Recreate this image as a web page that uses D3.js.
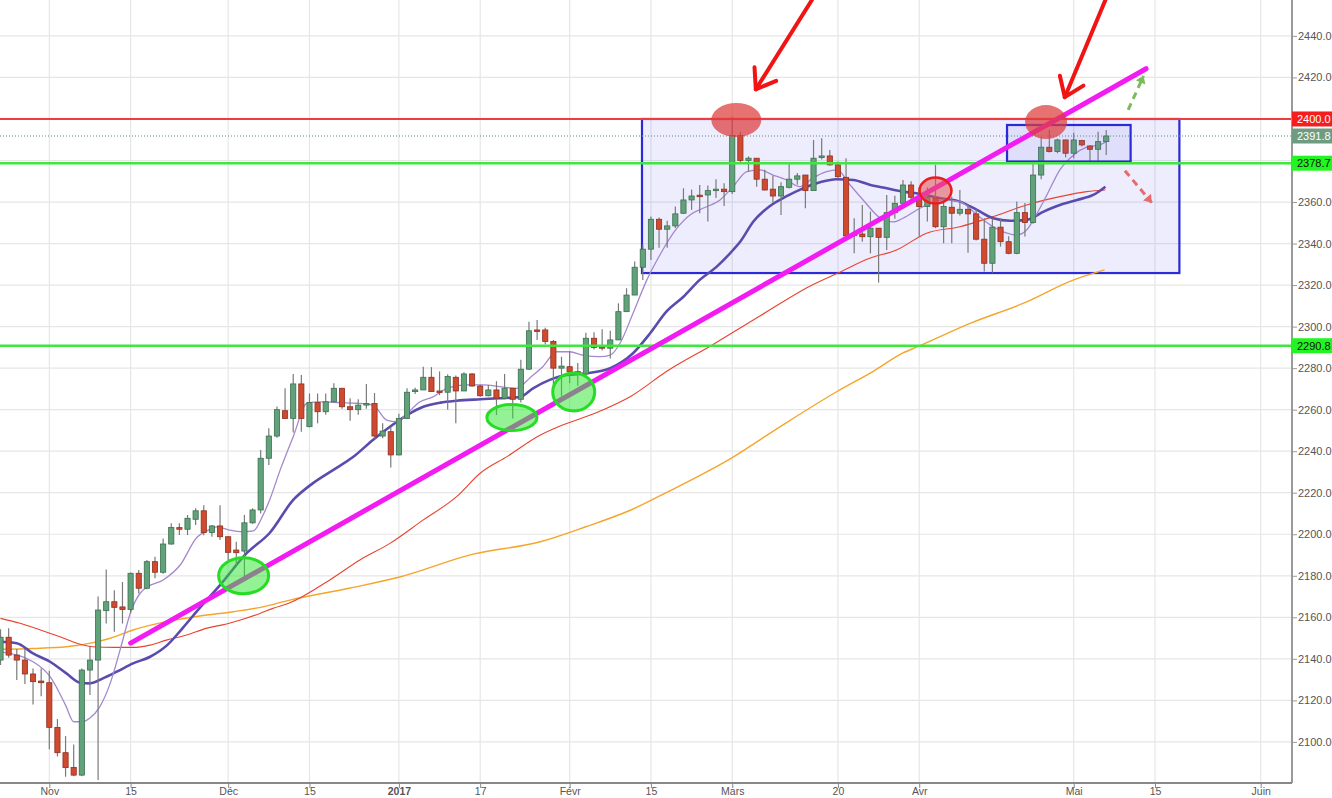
<!DOCTYPE html>
<html><head><meta charset="utf-8">
<script src="https://cdn.jsdelivr.net/npm/d3@7"></script>
<style>html,body{margin:0;padding:0;background:#fff;overflow:hidden}text{font-family:"Liberation Sans",Arial,sans-serif}</style>
</head><body><svg id="c" width="1332" height="798"></svg>
<script>
// ---- candle data (trading-day index 0..136) ----
const opens=[2139.4,2150.4,2141.8,2139.4,2132.7,2129.3,2128.5,2107,2094.8,2087.7,2084,2134.6,2139.4,2163.2,2167.5,2165,2163.8,2181.2,2174,2186.8,
2181.7,2195.3,2203.2,2202.4,2207.2,2211.3,2200.8,2204,2198.8,2192.4,2191.9,2205.5,2211.7,2236.6,2247.3,2259.5,2255.8,2272.4,2251.8,2263.4,
2259,2263.8,2270.3,2261.4,2260,2262.2,2263,2247.3,2249.4,2238.2,2255.8,2268.7,2269.5,2275.6,2269,2268.4,2275.6,2269,2277.2,2271.4,
2266.7,2269.5,2265.5,2270.3,2265,2279.5,2298.4,2298.4,2292.8,2280,2280.7,2278.3,2277.2,2294.4,2290.7,2289.6,2293.6,2307.2,2315.2,2328.6,
2337.3,2351.7,2346.9,2348.5,2354.6,2361,2363.3,2363.4,2365.7,2366.2,2365,2392,2380,2381.1,2371,2366.2,2362.9,2367.1,2371,2373,
2365.5,2381.4,2382.2,2377.9,2371.9,2343.8,2344.6,2343.3,2347.4,2343,2354.9,2359.4,2368.2,2362.3,2357.8,2361.8,2348.1,2357.5,2354.6,2356.5,
2354.3,2342.1,2330.5,2347.9,2340.9,2335.3,2354.9,2350.1,2373,2386.4,2384.3,2389.9,2383.5,2389.6,2387,2385.4,2389.1];
const highs=[2154.2,2154.7,2144.7,2144.7,2135.4,2135.4,2134.3,2111,2102.8,2098.8,2135.4,2146.3,2170,2183,2173,2177,2181.6,2182.8,2187.6,2189.2,
2198,2205.3,2205.3,2209.3,2212.5,2214,2204.5,2214,2199,2196.4,2209.3,2212.5,2240.6,2251,2261.5,2270.3,2277.2,2276.7,2267.8,2267.8,
2267.8,2272.7,2270.5,2265.5,2265,2272.4,2268,2253.5,2252,2258,2270.3,2270.5,2280.7,2280.5,2278.4,2277,2276.5,2278,2277.6,2272,
2271.9,2273.7,2277.2,2270.3,2284,2302.4,2303.2,2299.5,2293.6,2285.5,2288,2282.5,2297,2297.3,2298.7,2298,2311.2,2318.5,2331.3,2339.6,
2353,2352.5,2351,2357.8,2366.6,2366,2368.2,2368,2371,2369,2401.1,2393.9,2382,2381.1,2375.5,2372.6,2369.5,2379,2374,2373,
2389.9,2390.7,2385.1,2379.5,2381.1,2352.2,2358.6,2355.4,2347.5,2363.4,2363,2370.6,2370,2367,2367,2377.9,2359.5,2362.6,2365.8,2359,
2356.5,2352.2,2352.2,2352.2,2343.5,2360.2,2359.5,2378.7,2391.5,2394.7,2390.5,2390,2393.4,2390,2387.5,2393.9,2394.7];
const lows=[2137,2140.5,2129.8,2127.9,2118,2122,2096.4,2093,2083.2,2083.5,2083.5,2122.6,2081.6,2157,2153,2157,2162,2171.5,2173.5,2178.8,
2181,2195,2199.6,2199.6,2204.5,2199.5,2198.8,2197.2,2187.6,2185.2,2179.6,2205,2210,2233.4,2246.5,2255.5,2249,2249.4,2251.5,2253.4,
2257.5,2263.5,2260.5,2254.7,2257.5,2260.5,2246,2246.2,2232.2,2238,2255.5,2267.5,2269.5,2268.5,2267,2260,2253.4,2269,2271,2266.2,
2266.5,2257.4,2265,2255.8,2263.5,2279.2,2293.6,2291.5,2269.5,2266.3,2272.7,2271.5,2276.5,2289,2288.5,2284.7,2293.6,2307,2315.2,2322.5,
2332.1,2338,2338,2347.5,2354.3,2356.2,2354.6,2350.6,2362,2358.1,2363.9,2378.7,2374.6,2367.4,2365.5,2359.7,2353.8,2366.5,2368.3,2357,
2365.5,2380.5,2377.5,2371.5,2343,2335.3,2340.9,2335.3,2321.2,2336.9,2352,2359,2360.5,2343.3,2350.6,2347.4,2340.1,2340.1,2353.5,2335.6,
2341.5,2326.5,2326,2338.5,2334.8,2334.8,2343.4,2349.5,2371,2383.8,2383.5,2381.5,2381.1,2386.8,2379.5,2379.5,2382.7];
const closes=[2150.4,2141.8,2139.4,2132.7,2129,2128.5,2107,2094.8,2087.6,2084,2134.6,2139.4,2163.5,2167.5,2164.8,2163.8,2181.2,2174,2186.8,2181.7,
2195.3,2203.3,2202.4,2207.7,2211.3,2200.8,2204,2198.8,2191.3,2191.1,2205.5,2211.7,2236.6,2247.3,2260,2255.8,2272.4,2255.8,2263.4,2259,
2263.8,2270.3,2261.4,2260,2262.2,2263,2247.3,2249.7,2238.2,2255.8,2268.4,2269.5,2275.6,2268.7,2268.4,2276,2269,2277.2,2271.4,2266.7,
2269.5,2265.5,2270.3,2265,2279.5,2298,2297.8,2292.8,2280,2281,2278.3,2277.2,2294.4,2290,2289.6,2293.6,2307.2,2315.2,2328.6,2337.3,
2351.7,2346.9,2348.5,2354.3,2361,2362.9,2362.8,2365.5,2366.2,2365,2392,2380,2381.1,2371,2365.8,2362.9,2367.4,2371,2372.6,2365.5,
2381.1,2382.2,2377.9,2372.2,2343.7,2344.6,2343.3,2347.4,2343,2354.9,2359.4,2368.2,2362.3,2357.8,2362.3,2348.1,2357.8,2354.6,2356.5,2354.3,
2342.1,2330.5,2347.9,2340.9,2335.3,2354.9,2350.1,2373,2386.4,2384.3,2389.9,2383.5,2389.9,2387.5,2385.4,2389.1,2391.8];

// ---- moving averages: [day index, value] ----
const maFast=[[0,2143.4],[4,2138.6],[6.1,2131.4],[8,2117.7],[9,2109.7],[10,2109.7],[11,2111.5],[12.2,2116.9],[13.5,2128.3],[14.7,2144.2],
[16.1,2163.5],[17.2,2171.7],[18.1,2174.7],[20,2178],[22.1,2185.2],[24.2,2198.7],[25.2,2201.2],[26.6,2203.6],[28.2,2202],[29.8,2201.2],
[31.1,2201.6],[32.3,2209.3],[33.1,2216.5],[34.4,2231],[36,2247],[37.7,2263.1],[39.3,2263.8],[41.8,2263.4],[43.8,2263.1],[45.8,2262.2],
[47.5,2255],[48.7,2254.2],[50,2258.2],[51.6,2263.8],[53.2,2266.2],[54.9,2270.3],[57.3,2271.9],[59.4,2271.9],[61.4,2271.1],[63.5,2270.3],
[65.1,2275.3],[66.7,2280.7],[68.4,2287.9],[70,2287.9],[71.6,2286.3],[73.7,2285.5],[75,2286.3],[76.2,2292],[77.8,2306.4],[79.5,2322.5],
[81.1,2334.5],[83.2,2347.4],[84.8,2353.8],[86.4,2357],[88.5,2361],[90.1,2367.4],[91.8,2374.6],[93.4,2375.5],[95,2373],[96.7,2370.6],
[98.3,2367.4],[99.9,2371.5],[101.6,2374.6],[102.9,2375.5],[104.5,2368.2],[106.1,2361],[108.2,2352.3],[109.8,2350.4],[111,2352.2],[113.1,2357],
[115.9,2361],[118,2360.2],[120.1,2353.8],[122.1,2348.1],[123.8,2345],[125,2344.1],[126.2,2346.5],[127.5,2354.6],[128.7,2363.4],[130.3,2375.5],
[132,2382.7],[133.6,2386.4],[135.2,2387.5],[136,2389.1]];
const maMid=[[0,2148.2],[2,2147.5],[4,2142.6],[6.1,2138.6],[8.1,2133],[9.8,2128.5],[11,2128.2],[12.6,2130.6],[14.3,2133.8],[16.3,2137.8],
[18.4,2141],[20.5,2146.6],[22.4,2154.8],[24.5,2164.5],[27,2175.5],[30.3,2191],[33.1,2200.6],[36,2216.5],[38.4,2224.5],[40.9,2230.9],
[43.4,2237.3],[45.8,2245.4],[47.9,2251.8],[50,2257.4],[52,2261.4],[54.1,2263.4],[56.1,2264.3],[59,2265],[61.4,2265.5],[63.9,2266.1],
[65.5,2270.3],[69.6,2276.7],[72.1,2277.5],[75,2280],[77.8,2287.2],[79.9,2296.8],[81.9,2307.2],[84,2314.4],[86,2322.5],[88.1,2328.9],
[90.1,2336.9],[91,2341],[92.6,2350.6],[94.6,2358],[96.7,2362.8],[98.7,2366.6],[100.8,2369.5],[102.8,2371],[104.9,2370.6],[107,2368.2],
[109,2366.6],[111,2365],[113.1,2363.9],[115.6,2361.8],[118,2360.2],[120.1,2356.2],[122.1,2352.2],[124.2,2351],[126.2,2351.4],[128.3,2355.4],
[130.3,2358.6],[132.4,2361],[134.4,2363.4],[135.9,2367.4]];
const maSlow=[[0,2159.5],[2.4,2157.1],[4.9,2153.9],[7.3,2150.6],[9.4,2147.5],[11.4,2145.8],[13.9,2145.5],[16.3,2145.5],[18.4,2146.6],[20.4,2149],
[22.9,2151.5],[25.4,2154.8],[27.8,2156.8],[29.5,2158.7],[32,2162],[33.5,2164.3],[35.6,2167],[40.5,2178],[44.2,2187.6],[47.9,2195.6],
[52,2206.9],[56.1,2218.1],[59,2229.4],[62.3,2237.4],[66.4,2247.8],[68.8,2252.1],[73.2,2258.4],[77.6,2266.6],[82,2278.6],[87.6,2291.3],
[93.4,2305.1],[99.6,2319.6],[103,2325.8],[106.9,2332.9],[110.2,2336.9],[113.9,2345],[118,2348.1],[122.1,2353],[126.2,2358.6],[130.3,2362.6],
[133.6,2365],[135.9,2365.8]];
const maLong=[[0,2144.6],[4,2145],[8.1,2145.8],[11.4,2147.8],[13.5,2149.9],[16.3,2153.9],[20.4,2157.9],[24.5,2160.6],[28.6,2162.7],[32,2164.8],
[35.6,2168.3],[43,2174.1],[49.1,2179.4],[58.1,2190.4],[66.4,2196.4],[71.9,2203.5],[77.6,2211.8],[82,2220.3],[89.9,2236.7],[96,2252.1],
[103,2269],[107.4,2278.6],[111,2287.3],[113,2290.7],[119.4,2301.8],[125.9,2311.4],[132,2322.5],[135.8,2327.3]];

// ---- axes ----
const xTickIdx=[6,16,28,38,49,59,70,80,90,103,113,132,142,155];
const xTickLabels=["Nov","15","Déc","15","2017","17","Févr","15","Mars","20","Avr","Mai","15","Juin"];
const yTicks=[2100,2120,2140,2160,2180,2200,2220,2240,2260,2280,2300,2320,2340,2360,2380,2400,2420,2440];

// ---- drawn annotations (in data units: day index, price) ----
const resistance=[2400];
const supports=[2378.7,2290.8];
const lastPrice=[2391.8];
const trendLine=[[16.0,2147.6],[140.9,2424.2]];
const rangeBox=[[78.9,2400],[145,2325.8]];
const innerBox=[[123.8,2397.1],[139,2379.5]];
const greenMarks=[[29.9,2180],[62.9,2256.2],[70.5,2268.5]];
const redMarks=[[90.5,2399.5],[128.6,2398.5]];
const redRing=[[115,2365.5]];
const redArrows=[[[99.8,2457.3],[92.9,2414.3]],[[135.9,2457.3],[130.9,2410.5]]];
const upArrow=[[138.7,2404.4],[140.6,2420.8]];
const downArrow=[[138.3,2375.1],[141.6,2359.7]];

const svg=d3.select("#c");
const PR=1292, PB=783;
const x=d3.scaleLinear().domain([-0.064,158.85]).range([0,PR]);
const y=d3.scaleLinear().domain([2080.2,2457.3]).range([PB,0]);

// grid
const g=svg.append("g");
g.selectAll(".hg").data(yTicks).enter().append("line")
 .attr("x1",0).attr("x2",PR).attr("y1",d=>y(d)).attr("y2",d=>y(d)).attr("stroke","#e6e6e6").attr("stroke-width",1.2);
g.selectAll(".vg").data(xTickIdx).enter().append("line")
 .attr("y1",0).attr("y2",PB).attr("x1",d=>x(d)).attr("x2",d=>x(d)).attr("stroke","#e6e6e6").attr("stroke-width",1.2);

// range boxes
function box(b,fill,stroke){
  svg.append("rect").attr("x",x(b[0][0])).attr("y",y(b[0][1]))
   .attr("width",x(b[1][0])-x(b[0][0])).attr("height",y(b[1][1])-y(b[0][1]))
   .attr("fill",fill).attr("stroke",stroke).attr("stroke-width",2.2);
}
box(rangeBox,"rgba(110,110,240,0.12)","#2a2ad8");

// moving averages
const line=d3.line().x(d=>x(d[0])).y(d=>y(d[1])).curve(d3.curveMonotoneX);
svg.append("path").attr("d",line(maLong)).attr("fill","none").attr("stroke","#f5a52a").attr("stroke-width",1.4);
svg.append("path").attr("d",line(maSlow)).attr("fill","none").attr("stroke","#e8432e").attr("stroke-width",1.1);
svg.append("path").attr("d",line(maMid)).attr("fill","none").attr("stroke","#5a4cae").attr("stroke-width",2.6);
svg.append("path").attr("d",line(maFast)).attr("fill","none").attr("stroke","#a488cf").attr("stroke-width",1.3);

// candles
const idx=d3.range(opens.length);
const cg=svg.append("g");
cg.selectAll(".w").data(idx).enter().append("line")
 .attr("x1",i=>x(i)).attr("x2",i=>x(i)).attr("y1",i=>y(highs[i])).attr("y2",i=>y(lows[i]))
 .attr("stroke","#7a7a7a").attr("stroke-width",1.2);
cg.selectAll(".b").data(idx).enter().append("rect")
 .attr("x",i=>x(i)-2.6).attr("width",5.2)
 .attr("y",i=>y(Math.max(opens[i],closes[i])))
 .attr("height",i=>Math.max(1.5,Math.abs(y(opens[i])-y(closes[i]))))
 .attr("fill",i=>closes[i]>=opens[i]?"#62a27a":"#d04a30")
 .attr("stroke",i=>closes[i]>=opens[i]?"#3b6f4e":"#8f3020").attr("stroke-width",0.8);

box(innerBox,"rgba(110,110,240,0.10)","#2a2ad8");

// horizontal levels
svg.selectAll(".res").data(resistance).enter().append("line")
 .attr("x1",0).attr("x2",PR).attr("y1",d=>y(d)).attr("y2",d=>y(d)).attr("stroke","#f03c3c").attr("stroke-width",2);
svg.selectAll(".sup").data(supports).enter().append("line")
 .attr("x1",0).attr("x2",PR).attr("y1",d=>y(d)).attr("y2",d=>y(d)).attr("stroke","#3ee63e").attr("stroke-width",2.6);
svg.selectAll(".last").data(lastPrice).enter().append("line")
 .attr("x1",0).attr("x2",PR).attr("y1",d=>y(d)).attr("y2",d=>y(d)).attr("stroke","#5d8f74").attr("stroke-width",1).attr("stroke-dasharray","1,2");

// trend line
svg.append("line").attr("x1",x(trendLine[0][0])).attr("y1",y(trendLine[0][1]))
 .attr("x2",x(trendLine[1][0])).attr("y2",y(trendLine[1][1]))
 .attr("stroke","#f21cf2").attr("stroke-width",5).attr("stroke-linecap","round");

// marks
const gSize=[[25,18],[25,13],[21,19]];
svg.selectAll(".gm").data(greenMarks).enter().append("ellipse")
 .attr("cx",d=>x(d[0])).attr("cy",d=>y(d[1])).attr("rx",(d,i)=>gSize[i][0]).attr("ry",(d,i)=>gSize[i][1])
 .attr("fill","rgba(40,230,40,0.5)").attr("stroke","#25dd25").attr("stroke-width",3);
const rSize=[[25,17],[21,17]];
svg.selectAll(".rm").data(redMarks).enter().append("ellipse")
 .attr("cx",d=>x(d[0])).attr("cy",d=>y(d[1])).attr("rx",(d,i)=>rSize[i][0]).attr("ry",(d,i)=>rSize[i][1])
 .attr("fill","rgba(222,60,60,0.72)");
svg.selectAll(".rr").data(redRing).enter().append("ellipse")
 .attr("cx",d=>x(d[0])).attr("cy",d=>y(d[1])).attr("rx",16).attr("ry",13)
 .attr("fill","rgba(230,80,80,0.55)").attr("stroke","#e81e1e").attr("stroke-width",2.5);

// arrows
function arrow(a,color,width,dash,head,filled){
  const x1=x(a[0][0]),y1=y(a[0][1]),x2=x(a[1][0]),y2=y(a[1][1]);
  const ang=Math.atan2(y1-y2,x1-x2), sp=0.62;
  svg.append("line").attr("x1",x1).attr("y1",y1).attr("x2",x2).attr("y2",y2)
   .attr("stroke",color).attr("stroke-width",width).attr("stroke-dasharray",dash).attr("stroke-linecap",dash?"butt":"round");
  const p1=[x2+head*Math.cos(ang+sp),y2+head*Math.sin(ang+sp)], p2=[x2+head*Math.cos(ang-sp),y2+head*Math.sin(ang-sp)];
  if(filled){
    svg.append("path").attr("d",`M${p1}L${x2},${y2}L${p2}Z`).attr("fill",color);
  } else {
    svg.append("path").attr("d",`M${p1}L${x2},${y2}L${p2}`).attr("fill","none").attr("stroke",color)
     .attr("stroke-width",width).attr("stroke-linecap","round").attr("stroke-linejoin","round");
  }
}
redArrows.forEach(a=>arrow(a,"#f01414",4,null,22,false));
arrow(upArrow,"#7dbb5a",3,"7,5",9,true);
arrow(downArrow,"#e86b6b",3,"7,5",9,true);

// axes
const tagValues=[resistance[0],lastPrice[0],supports[0],supports[1]];
const ax=svg.append("g").attr("transform",`translate(${PR},0)`)
 .call(d3.axisRight(y).tickValues(yTicks).tickFormat(d3.format(".1f")).tickSize(5).tickPadding(1));
ax.select(".domain").attr("stroke","#9a9a9a").attr("stroke-width",2).attr("d",`M0,0V${PB}`);
ax.selectAll(".tick line").attr("stroke","#9a9a9a");
ax.selectAll("text").attr("fill","#555").style("font-size","11px").style("font-family","'Liberation Sans',Arial,sans-serif");
// tick labels hidden under the price tags
ax.selectAll(".tick").filter(d=>tagValues.some(t=>Math.abs(y(d)-y(t))<12)).select("text").remove();

const bx=svg.append("g").attr("transform",`translate(0,${PB})`)
 .call(d3.axisBottom(x).tickValues(xTickIdx).tickFormat((d,i)=>xTickLabels[i]).tickSize(5).tickPadding(0));
bx.select(".domain").attr("stroke","#888").attr("stroke-width",2).attr("d",`M0,0H${PR}`);
bx.selectAll(".tick line").attr("stroke","#888");
bx.selectAll("text").attr("fill","#555").style("font-size","10.5px").style("font-family","'Liberation Sans',Arial,sans-serif")
 .style("font-weight",(d,i)=>xTickLabels[i]==="2017"?"bold":"normal");

// price tags
const tags=[[resistance[0],"#f41e1e","#fff"],[lastPrice[0],"#6f9c80","#fff"],[supports[0],"#22f522","#111"],[supports[1],"#22f522","#111"]];
tags.forEach(t=>{
  svg.append("rect").attr("x",PR).attr("y",y(t[0])-7.5).attr("width",40).attr("height",15).attr("fill",t[1]);
  svg.append("text").attr("x",PR+5).attr("y",y(t[0])+4).attr("fill",t[2]).style("font-size","11px").text(d3.format(".1f")(t[0]));
});
</script></body></html>
